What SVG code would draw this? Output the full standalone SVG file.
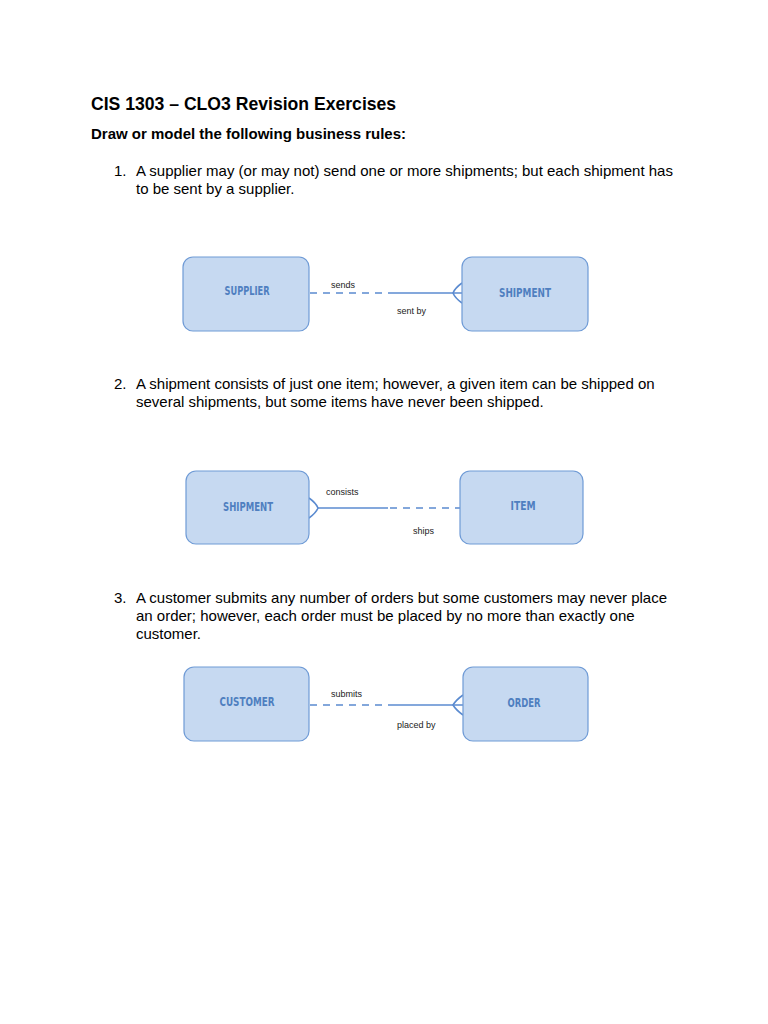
<svg xmlns="http://www.w3.org/2000/svg" width="768" height="1024" viewBox="0 0 768 1024">
<style>
.t{font-family:"Liberation Sans",Arial,sans-serif;fill:#000}
.h1{font-size:17.6px;font-weight:bold}
.h2{font-size:15px;font-weight:bold}
.b{font-size:15px}
.box{fill:#c6d9f1;stroke:#6f9bd6;stroke-width:1.2}
.nl{font-family:"DejaVu Sans Condensed","Liberation Sans",sans-serif;font-size:12px;font-weight:bold;fill:#4f7fc0;text-anchor:middle}
.rl{font-family:"Liberation Sans",Arial,sans-serif;font-size:9px;fill:#222}
.solid{stroke:#5b8bd0;stroke-width:1.6;fill:none}
.dash{stroke:#5b8bd0;stroke-width:1.6;fill:none;stroke-dasharray:7,6}
</style>
<rect width="768" height="1024" fill="#fff"/>
<text class="t h1" x="91" y="110">CIS 1303 – CLO3 Revision Exercises</text>
<text class="t h2" x="91" y="139">Draw or model the following business rules:</text>
<text class="t b" x="114" y="176">1.</text>
<text class="t b" x="136" y="176">A supplier may (or may not) send one or more shipments; but each shipment has</text>
<text class="t b" x="136" y="194">to be sent by a supplier.</text>
<text class="t b" x="114" y="389">2.</text>
<text class="t b" x="136" y="389">A shipment consists of just one item; however, a given item can be shipped on</text>
<text class="t b" x="136" y="407">several shipments, but some items have never been shipped.</text>
<text class="t b" x="114" y="603">3.</text>
<text class="t b" x="136" y="603">A customer submits any number of orders but some customers may never place</text>
<text class="t b" x="136" y="621">an order; however, each order must be placed by no more than exactly one</text>
<text class="t b" x="136" y="639">customer.</text>

<g id="connectors">
<g id="c1">
<path class="dash" d="M310,293 H388"/>
<path class="solid" d="M388,293 H462"/>
<path class="solid" d="M462,283 Q455,288 453,293 Q455,298 462,303"/>
<text class="rl" x="331" y="288">sends</text>
<text class="rl" x="397" y="314">sent by</text>
</g>
<g id="c2">
<path class="solid" d="M318,508 H388"/>
<path class="dash" d="M390,508 H460"/>
<path class="solid" d="M309,498 Q316,503 318,508 Q316,513 309,518"/>
<text class="rl" x="326" y="495">consists</text>
<text class="rl" x="413" y="534">ships</text>
</g>
<g id="c3">
<path class="dash" d="M310,705 H388"/>
<path class="solid" d="M388,705 H463"/>
<path class="solid" d="M463,695 Q456,700 453,705 Q456,710 463,715"/>
<text class="rl" x="331" y="697">submits</text>
<text class="rl" x="397" y="728">placed by</text>
</g>
</g>

<g id="supplier"><rect class="box" x="183" y="257" width="126" height="74" rx="10"/><text class="nl" x="247" y="295" textLength="45" lengthAdjust="spacingAndGlyphs">SUPPLIER</text></g>
<g id="shipment1"><rect class="box" x="462" y="257" width="126" height="74" rx="10"/><text class="nl" x="525" y="297" textLength="52" lengthAdjust="spacingAndGlyphs">SHIPMENT</text></g>
<g id="shipment2"><rect class="box" x="186" y="471" width="123" height="73" rx="10"/><text class="nl" x="248" y="511" textLength="50" lengthAdjust="spacingAndGlyphs">SHIPMENT</text></g>
<g id="item"><rect class="box" x="460" y="471" width="123" height="73" rx="10"/><text class="nl" x="523" y="510" textLength="25" lengthAdjust="spacingAndGlyphs">ITEM</text></g>
<g id="customer"><rect class="box" x="184" y="667" width="125" height="74" rx="10"/><text class="nl" x="247" y="706" textLength="55" lengthAdjust="spacingAndGlyphs">CUSTOMER</text></g>
<g id="order"><rect class="box" x="463" y="667" width="125" height="74" rx="10"/><text class="nl" x="524" y="707" textLength="33" lengthAdjust="spacingAndGlyphs">ORDER</text></g>
</svg>
